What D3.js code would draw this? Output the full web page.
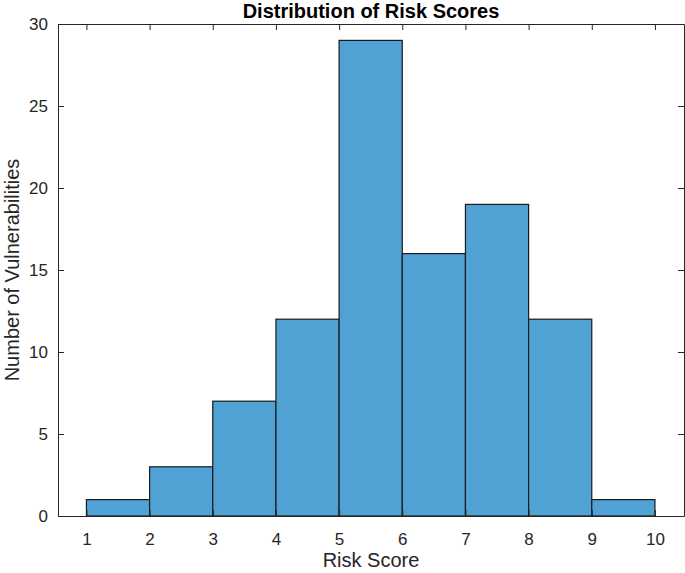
<!DOCTYPE html>
<html>
<head>
<meta charset="utf-8">
<script src="https://cdn.jsdelivr.net/npm/d3@7"></script>
<style>
  body { margin: 0; background: #fff; }
  svg { display: block; font-family: "Liberation Sans", Arial, sans-serif; }
</style>
</head>
<body>
<div id="chart"></div>
<script>
// histogram bins (edges) and counts
const binEdges = [1, 2, 3, 4, 5, 6, 7, 8, 9, 10];
const counts = [1, 3, 7, 12, 29, 16, 19, 12, 1];
const xTicks = [1, 2, 3, 4, 5, 6, 7, 8, 9, 10];
const yTicks = [0, 5, 10, 15, 20, 25, 30];

const W = 685, H = 573;
const margin = { top: 24, right: 1, bottom: 57, left: 58 };
const width = W - margin.left - margin.right;
const height = H - margin.top - margin.bottom;

const axisColor = '#262626';

const svg = d3.select('#chart').append('svg')
    .attr('width', W)
    .attr('height', H);

const g = svg.append('g')
    .attr('transform', `translate(${margin.left},${margin.top})`);

const x = d3.scaleLinear().domain([0.55, 10.46]).range([0, width]);
const y = d3.scaleLinear().domain([0, 30]).range([height, 0]);

// bars
const bins = counts.map((c, i) => ({ x0: binEdges[i], x1: binEdges[i + 1], count: c }));
g.append('g')
    .selectAll('rect')
    .data(bins)
    .enter().append('rect')
    .attr('x', d => x(d.x0))
    .attr('y', d => y(d.count))
    .attr('width', d => x(d.x1) - x(d.x0))
    .attr('height', d => y(0) - y(d.count))
    .attr('fill', '#4fa2d3')
    .attr('stroke', '#1a1a1a')
    .attr('stroke-width', 1.2);

// axes (MATLAB-ish box with inward ticks)
const tl = 6;
const xAxis = g.append('g')
    .attr('transform', `translate(0,${height})`)
    .call(d3.axisBottom(x).tickValues(xTicks).tickSize(-tl).tickPadding(17).tickSizeOuter(0));
const xTop = g.append('g')
    .call(d3.axisTop(x).tickValues(xTicks).tickSize(-tl).tickFormat('').tickSizeOuter(0));
const yAxis = g.append('g')
    .call(d3.axisLeft(y).tickValues(yTicks).tickSize(-tl).tickPadding(10).tickSizeOuter(0));
const yRight = g.append('g')
    .attr('transform', `translate(${width},0)`)
    .call(d3.axisRight(y).tickValues(yTicks).tickSize(-tl).tickFormat('').tickSizeOuter(0));

[xAxis, xTop, yAxis, yRight].forEach(a => {
    a.select('.domain').attr('stroke', axisColor).attr('stroke-width', 1);
    a.selectAll('.tick line').attr('stroke', axisColor);
    a.selectAll('text')
        .attr('fill', axisColor)
        .style('font-size', '17px');
});

// title
svg.append('text')
    .attr('x', margin.left + width / 2)
    .attr('y', 18)
    .attr('text-anchor', 'middle')
    .style('font-size', '20px')
    .style('font-weight', 'bold')
    .attr('fill', '#000')
    .text('Distribution of Risk Scores');

// axis labels
svg.append('text')
    .attr('x', margin.left + width / 2)
    .attr('y', 567)
    .attr('text-anchor', 'middle')
    .style('font-size', '20px')
    .attr('fill', axisColor)
    .text('Risk Score');

svg.append('text')
    .attr('transform', `translate(19,${margin.top + height / 2}) rotate(-90)`)
    .attr('text-anchor', 'middle')
    .style('font-size', '20px')
    .attr('fill', axisColor)
    .text('Number of Vulnerabilities');
</script>
</body>
</html>
